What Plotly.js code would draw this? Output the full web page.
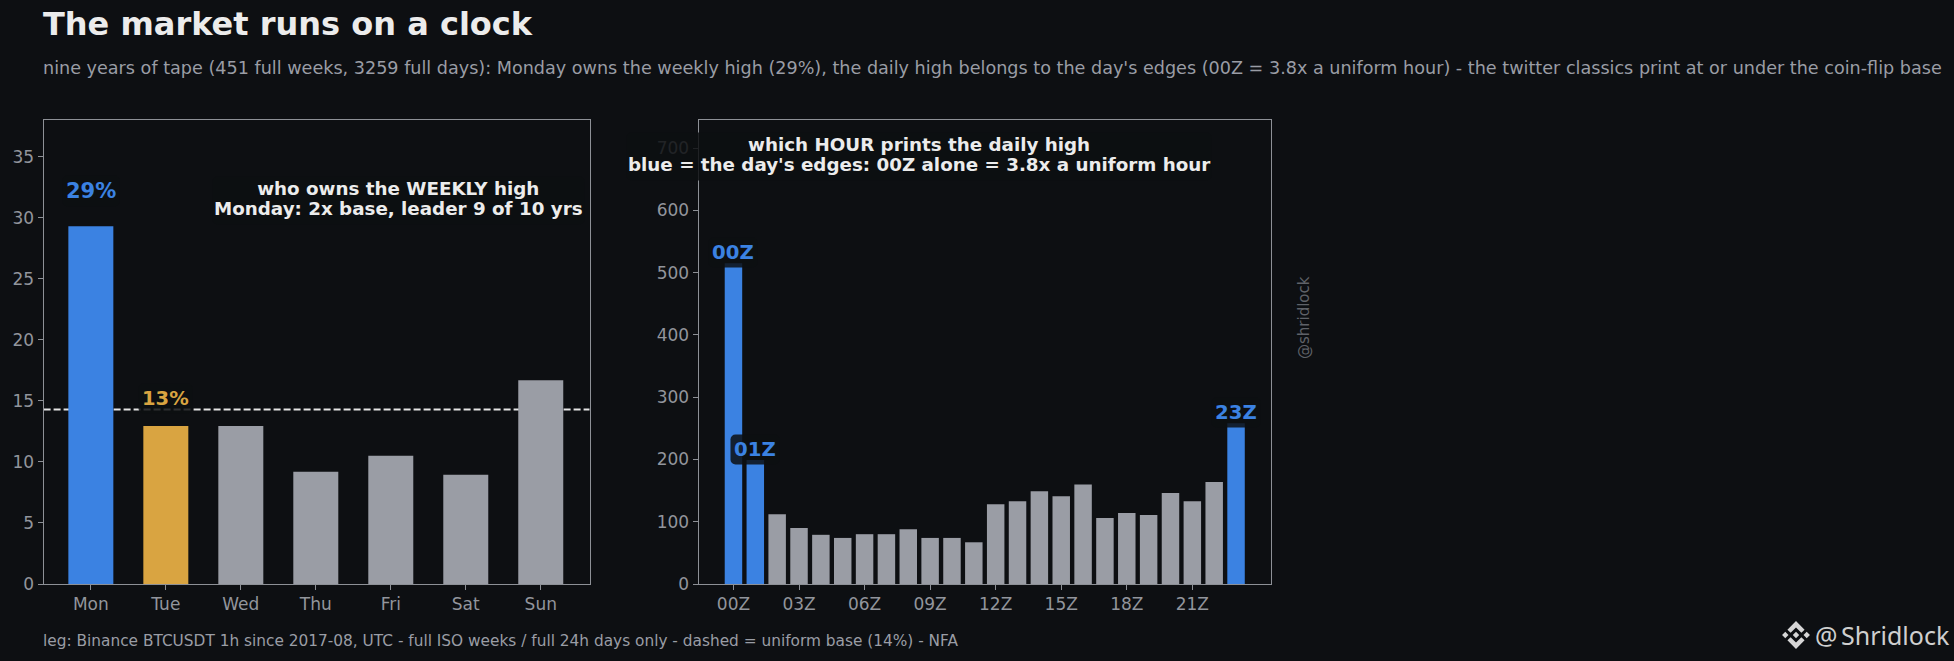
<!DOCTYPE html>
<html>
<head>
<meta charset="utf-8">
<script src="https://cdn.plot.ly/plotly-3.0.1.min.js"></script>
<style>
  html, body { margin: 0; padding: 0; background: #0d0f12; overflow: hidden; }
  #chart { width: 1954px; height: 661px; }
</style>
</head>
<body>
<div id="chart"></div>
<script>
// Data
const days = ['Mon', 'Tue', 'Wed', 'Thu', 'Fri', 'Sat', 'Sun'];
const weeklyHighPct = [29.3, 12.95, 12.95, 9.2, 10.5, 8.95, 16.7];
const uniformBase = 14.29;

const hours = ['00Z', '01Z', '02Z', '03Z', '04Z', '05Z', '06Z', '07Z', '08Z', '09Z', '10Z', '11Z',
  '12Z', '13Z', '14Z', '15Z', '16Z', '17Z', '18Z', '19Z', '20Z', '21Z', '22Z', '23Z'];
const dailyHighCount = [515, 199, 112, 90, 79, 74, 80, 80, 88, 74, 74, 67,
  128, 133, 149, 141, 160, 106, 114, 111, 146, 133, 164, 258];
const hourTicks = ['00Z', '03Z', '06Z', '09Z', '12Z', '15Z', '18Z', '21Z'];

// Colours
const BG = '#0d0f12';
const BLUE = '#3b82e2';
const AMBER = '#d9a441';
const GREY = '#9a9da5';
const TICK = '#92959c';
const SPINE = '#8d9096';
const TEXT = '#ececec';
const BOX = 'rgba(13,15,18,0.85)';
const FONT = '"DejaVu Sans", sans-serif';

const W = 1954, H = 661;
const px = v => v / W;
const py = v => 1 - v / H;

// Paper positioned text
function label(text, x, y, size, color, opts) {
  return Object.assign({
    text: text, xref: 'paper', yref: 'paper', x: px(x), y: py(y),
    xanchor: 'left', yanchor: 'middle', showarrow: false,
    font: { family: FONT, size: size, color: color }
  }, opts || {});
}

// Label that sits above a bar
function barLabel(text, xref, yref, x, y, shift, size, color) {
  return {
    text: '<b>' + text + '</b>', xref: xref, yref: yref, x: x, y: y,
    yanchor: 'middle', xanchor: 'center', yshift: shift, showarrow: false,
    bgcolor: BOX, borderpad: 3,
    font: { family: FONT, size: size, color: color }
  };
}

const dayColors = days.map((d, i) => i === 0 ? BLUE : i === 1 ? AMBER : GREY);
const edgeHours = ['00Z', '01Z', '23Z'];
const hourColors = hours.map(h => edgeHours.includes(h) ? BLUE : GREY);

const traces = [
  { type: 'bar', x: days, y: weeklyHighPct, width: 0.6, marker: { color: dayColors },
    xaxis: 'x', yaxis: 'y', hoverinfo: 'x+y' },
  { type: 'bar', x: hours, y: dailyHighCount, width: 0.8, marker: { color: hourColors },
    xaxis: 'x2', yaxis: 'y2', hoverinfo: 'x+y' }
];

const axisBase = {
  showgrid: false, zeroline: false, showline: true, mirror: true,
  linecolor: SPINE, linewidth: 1, ticks: 'outside', ticklen: 5, tickwidth: 1, tickcolor: SPINE,
  tickfont: { family: FONT, size: 17, color: TICK }
};

const logoSvg = "<svg xmlns='http://www.w3.org/2000/svg' viewBox='0 0 28 28'><g fill='#d6d6d6'>" +
  "<path d='M14 11l3 3-3 3-3-3z'/><path d='M4 11l3 3-3 3-3-3z'/><path d='M24 11l3 3-3 3-3-3z'/>" +
  "<path d='M14 1l8 8-3 3-5-5-5 5-3-3z'/><path d='M14 27l-8-8 3-3 5 5 5-5 3 3z'/></g></svg>";

const markFont = { family: '"Noto Sans", sans-serif', size: 25, color: '#cfcfcf' };

const layout = {
  width: W, height: H,
  margin: { l: 0, r: 0, t: 0, b: 0 },
  paper_bgcolor: BG, plot_bgcolor: BG,
  showlegend: false,
  xaxis: Object.assign({}, axisBase, {
    domain: [px(43.6), px(589.5)], anchor: 'y', type: 'category',
    categoryorder: 'array', categoryarray: days, range: [-0.63, 6.65]
  }),
  yaxis: Object.assign({}, axisBase, {
    domain: [py(584), py(119.5)], anchor: 'x', range: [0, 38.05], tickvals: [0, 5, 10, 15, 20, 25, 30, 35]
  }),
  xaxis2: Object.assign({}, axisBase, {
    domain: [px(698.5), px(1271)], anchor: 'y2', type: 'category',
    categoryorder: 'array', categoryarray: hours, range: [-1.6, 24.6], tickmode: 'array',
    tickvals: hourTicks, ticktext: hourTicks
  }),
  yaxis2: Object.assign({}, axisBase, {
    domain: [py(584), py(119.5)], anchor: 'x2', range: [0, 746], tickvals: [0, 100, 200, 300, 400, 500, 600, 700]
  }),
  shapes: [{
    type: 'line', xref: 'x domain', yref: 'y', x0: 0, x1: 1, y0: uniformBase, y1: uniformBase,
    layer: 'below', line: { color: '#e4e4e4', width: 2, dash: '7px,3px' }
  }],
  images: [{
    source: 'data:image/svg+xml;utf8,' + encodeURIComponent(logoSvg),
    xref: 'paper', yref: 'paper', x: px(1781), y: py(620), sizex: px(30), sizey: 30 / H,
    xanchor: 'left', yanchor: 'top', layer: 'above'
  }],
  annotations: [
    label('<b>The market runs on a clock</b>', 41, 24, 32, TEXT),
    label("nine years of tape (451 full weeks, 3259 full days): Monday owns the weekly high (29%), the daily high belongs to the day's edges (00Z = 3.8x a uniform hour) - the twitter classics print at or under the coin-flip base", 41, 68, 17.6, GREY),
    label('leg: Binance BTCUSDT 1h since 2017-08, UTC - full ISO weeks / full 24h days only - dashed = uniform base (14%) - NFA', 41, 641, 15.35, GREY),
    label('<b>who owns the WEEKLY high<br>Monday: 2x base, leader 9 of 10 yrs</b>', 398, 201, 18.3, TEXT, { xanchor: 'center', bgcolor: BOX, borderpad: 1 }),
    label("<b>which HOUR prints the daily high<br>blue = the day's edges: 00Z alone = 3.8x a uniform hour</b>", 918.5, 156.5, 18.3, TEXT, { xanchor: 'center', bgcolor: BOX, borderpad: 1 }),
    barLabel('29%', 'x', 'y', days[0], weeklyHighPct[0], 35, 21, BLUE),
    barLabel('13%', 'x', 'y', days[1], weeklyHighPct[1], 27, 19.5, AMBER),
    barLabel('00Z', 'x2', 'y2', hours[0], dailyHighCount[0], 11, 19.7, BLUE),
    barLabel('01Z', 'x2', 'y2', hours[1], dailyHighCount[1], 11, 19.7, BLUE),
    barLabel('23Z', 'x2', 'y2', hours[23], dailyHighCount[23], 11, 19.7, BLUE),
    label('@shridlock', 1304, 318, 15, '#5f6268', { xanchor: 'center', textangle: -90 }),
    label('@', 1813, 635, 25, '#cfcfcf', { font: markFont }),
    label('Shridlock', 1839, 635, 25, '#cfcfcf', { font: markFont })
  ]
};

Plotly.newPlot('chart', traces, layout, { displayModeBar: false, responsive: false }).then(() => {
  // Rounded corners on the text boxes, tighter line spacing in the two panel titles
  document.querySelectorAll('.annotation rect.bg').forEach(r => r.setAttribute('rx', 5));
  document.querySelectorAll('.annotation-text tspan.line').forEach(t => {
    if (t.getAttribute('dy') === '1.3em') t.setAttribute('dy', '1.08em');
  });
});
</script>
</body>
</html>
